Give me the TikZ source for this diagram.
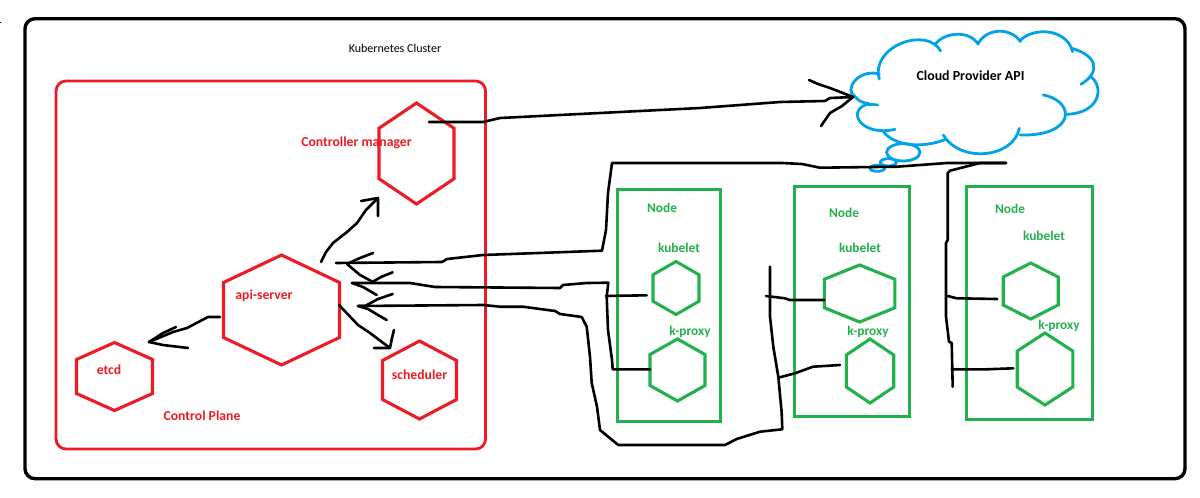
\documentclass[tikz,border=0pt]{standalone}
\usepackage{fontspec}
\setmainfont{Carlito}
\usetikzlibrary{shapes.geometric}
\definecolor{paintred}{RGB}{237,28,36}
\definecolor{paintgreen}{RGB}{34,177,76}
\definecolor{paintblue}{RGB}{0,162,232}
\tikzset{
    hexsize/.style 2 args = {xscale=#1/43.3, yscale=#2/50},
    hexagon/.style = {regular polygon, regular polygon sides=6, shape border rotate=30, minimum size=100pt, inner sep=0pt, outer sep=0pt, transform shape, line width=3.1pt},
    hex-red/.style = {hexagon, draw=paintred},
    hex-green/.style = {hexagon, draw=paintgreen},
    node-box/.style = {draw=paintgreen, line width=3pt},
    plane-box/.style = {draw=paintred, line width=2.8pt, rounded corners=10pt},
    cluster-box/.style = {draw=black, line width=3.4pt, rounded corners=10pt},
    red-label/.style = {text=paintred, font=\fontsize{13.7}{15}\selectfont\bfseries, inner sep=0pt},
    green-label/.style = {text=paintgreen, font=\fontsize{13.4}{15}\selectfont\bfseries, inner sep=0pt},
    black-label/.style = {text=black, font=\fontsize{12}{14}\selectfont, inner sep=0pt},
    cloud-label/.style = {text=black, font=\fontsize{13.9}{15}\selectfont\bfseries, inner sep=0pt},
    pen/.style = {draw=black, line width=2.6pt, line cap=round, line join=round},
    cloud-pen/.style = {draw=paintblue, line width=2.8pt, line cap=round},
}

\begin{document}
\begin{tikzpicture}[x=1pt, y=-1pt]
\useasboundingbox (0,0) rectangle (1200,498);
\draw[pen, line width=1pt] (0,22) -- (1,22);

% boxes
\node[cluster-box, minimum width=1160pt, minimum height=460pt, inner sep=0pt] (cluster) at (605,248.7) {};
\node[plane-box, minimum width=429.5pt, minimum height=368pt, inner sep=0pt] (plane) at (270.8,265) {};
\node[node-box, minimum width=103pt, minimum height=232pt, inner sep=0pt] (box1) at (669.2,305) {};
\node[node-box, minimum width=115pt, minimum height=230pt, inner sep=0pt] (box2) at (851.5,301) {};
\node[node-box, minimum width=126pt, minimum height=233pt, inner sep=0pt] (box3) at (1029.7,302.5) {};

% control plane
\node[hex-red, hexsize={37.5}{50.5}] (controller) at (416.5,153.5) {};
\node[hex-red, hexsize={58}{55}] (apiserver) at (281.5,310) {};
\node[hex-red, hexsize={38}{34}] (etcd) at (114.5,376.5) {};
\node[hex-red, hexsize={37}{39}] (scheduler) at (419.5,380) {};

% nodes
\node[hex-green, hexsize={23}{26.5}] (kubelet1) at (676,288) {};
\node[hex-green, hexsize={27.5}{31}] (proxy1) at (677.5,370) {};
\node[hex-green, hexsize={35.3}{28.5}] (kubelet2) at (859.6,293.5) {};
\node[hex-green, hexsize={23.7}{32}] (proxy2) at (870,371) {};
\node[hex-green, hexsize={27.5}{28}] (kubelet3) at (1030.7,291) {};
\node[hex-green, hexsize={27.8}{36}] (proxy3) at (1045,369) {};

% cloud
\begin{scope}[shift={(780,0)}, x=0.3333pt, y=-0.3333pt]
\draw[cloud-pen] (298,237) .. controls (270,140) and (440,77) .. (482,153);
\draw[cloud-pen] (465,135) .. controls (490,95) and (570,90) .. (595,133);
\draw[cloud-pen] (595,130) .. controls (620,85) and (690,80) .. (722,125);
\draw[cloud-pen] (720,122) .. controls (760,80) and (860,85) .. (878,155);
\draw[cloud-pen] (875,145) .. controls (950,165) and (965,215) .. (903,253);
\draw[cloud-pen] (930,228) .. controls (975,260) and (960,340) .. (860,343);
\draw[cloud-pen] (790,285) .. controls (890,305) and (885,410) .. (720,405);
\draw[cloud-pen] (718,385) .. controls (700,475) and (540,490) .. (490,405);
\draw[cloud-pen] (497,418) .. controls (430,445) and (345,440) .. (310,395);
\draw[cloud-pen] (345,388) .. controls (250,410) and (200,340) .. (255,315) .. controls (265,311) and (280,314) .. (293,315);
\draw[cloud-pen] (298,222) .. controls (235,205) and (190,270) .. (225,290) .. controls (235,303) and (250,310) .. (265,310);
\draw[cloud-pen] (370,457) ellipse [x radius=50, y radius=26];
\draw[cloud-pen] (325,487) ellipse [x radius=24, y radius=11];
\draw[cloud-pen] (292,505) ellipse [x radius=22, y radius=9];
\end{scope}
\node[cloud-label] (cloudapi) at (970.5,76) {Cloud Provider API};

% end points of the pen strokes
\coordinate (cloudtip) at (853,97);
\coordinate (controllertip) at (378,198);
\coordinate (etcdtip) at (149,342);
\coordinate (schedulertip) at (390,348);
\coordinate (apitip1) at (336,263);
\coordinate (apifork1) at (347,264);
\coordinate (apitip2) at (352,283);
\coordinate (apitip3) at (358,306);
\coordinate (bus1) at (1006,163);

% pen strokes
\draw[pen] (429,122) -- (483,122) -- (500,118) -- (600,113) -- (700,108) -- (780,102) -- (825,101) -- (830,98) -- (cloudtip);
\draw[pen] (809,80) -- (818,84) -- (830,88) -- (cloudtip) -- (842,106) -- (830,113) -- (821,126);
\draw[pen] (321,262) -- (326,252) -- (333,243) -- (347,232) -- (357,223) -- (366,210) -- (controllertip);
\draw[pen] (361,201) -- (controllertip) -- (378,216);
\draw[pen] (220,317) -- (208,317) -- (187,328) -- (173,332) -- (etcdtip);
\draw[pen] (176,327) -- (163,333) -- (etcdtip) -- (163,345) -- (188,348);
\draw[pen] (339,305) -- (358,325) -- (370,333) -- (schedulertip);
\draw[pen] (374,348) -- (schedulertip) -- (392,338) -- (394,330);

% first line, to the bus over the nodes
\draw[pen] (apitip1) -- (442,262) -- (447,259) -- (483,255) -- (602,250.7) -- (606,230) -- (608,193) -- (612,163) -- (782,163) -- (802,164) -- (820,167.7) -- (897,166.7) -- (947,163) -- (bus1);
\draw[pen] (373,253) -- (360,258) -- (apifork1) -- (360,275) -- (373,282);
\draw[pen] (bus1) -- (980,163) -- (950,170.7) -- (947.7,173) -- (947.7,240) -- (946,243) -- (946,316.7) -- (949,341.7) -- (951.7,343) -- (952.7,386.7);
\draw[pen] (947.7,296) -- (956.7,298.3) -- (997.3,299);
\draw[pen] (951.7,369.3) -- (986.7,369.3) -- (1013.3,368.3);

% second line
\draw[pen] (apitip2) -- (410,283) -- (435,287) -- (560,288) -- (563,285) -- (587,283) -- (608.3,282.7) -- (606.7,296.7) -- (608,330) -- (612,360) -- (612.7,369.3) -- (proxy1.west |- 0,369.3);
\draw[pen] (606,296) -- (646.7,295.3);
\draw[pen] (392.7,272.3) -- (381.7,276.7) -- (371.7,282.3);
\draw[pen] (apitip2) -- (363,287) -- (376.7,295);

% third line
\draw[pen] (apitip3) -- (483,305) -- (500,306.7) -- (523,306.7) -- (555,311) -- (560,314) -- (581.7,317) -- (586.7,326.7) -- (590,356.7) -- (591.7,383) -- (597,406.7) -- (600,430) -- (618.3,445) -- (725,445) -- (736.7,439) -- (760,431.7) -- (782.3,429.3) -- (781.7,413) -- (778.3,376.7) -- (773.3,346.7) -- (770,316.7) -- (770,266.7);
\draw[pen] (766,296) -- (785,298.3) -- (790,300) -- (824.3,300);
\draw[pen] (778.3,377.7) -- (795,373.3) -- (813,366.7) -- (840,365);
\draw[pen] (392.7,294) -- (378,299) -- (365,306) -- (apitip3) -- (368,309) -- (378,315) -- (386.7,320);

% labels
\node[black-label] (clustername) at (395,48) {Kubernetes Cluster};
\node[red-label] (controllername) at (356.5,143) {Controller manager};
\node[red-label] (apiname) at (264,296) {api-server};
\node[red-label] (etcdname) at (109,370) {etcd};
\node[red-label] (schedulername) at (419.5,375) {scheduler};
\node[red-label] (planename) at (202,416) {Control Plane};
\node[green-label] (nodename1) at (662,208) {Node};
\node[green-label] (kubeletname1) at (679,248) {kubelet};
\node[green-label] (proxyname1) at (690,332) {k-proxy};
\node[green-label] (nodename2) at (844,213) {Node};
\node[green-label] (kubeletname2) at (860,248) {kubelet};
\node[green-label] (proxyname2) at (868,332) {k-proxy};
\node[green-label] (nodename3) at (1010,209) {Node};
\node[green-label] (kubeletname3) at (1044,236) {kubelet};
\node[green-label] (proxyname3) at (1059,326) {k-proxy};
\end{tikzpicture}
\end{document}
